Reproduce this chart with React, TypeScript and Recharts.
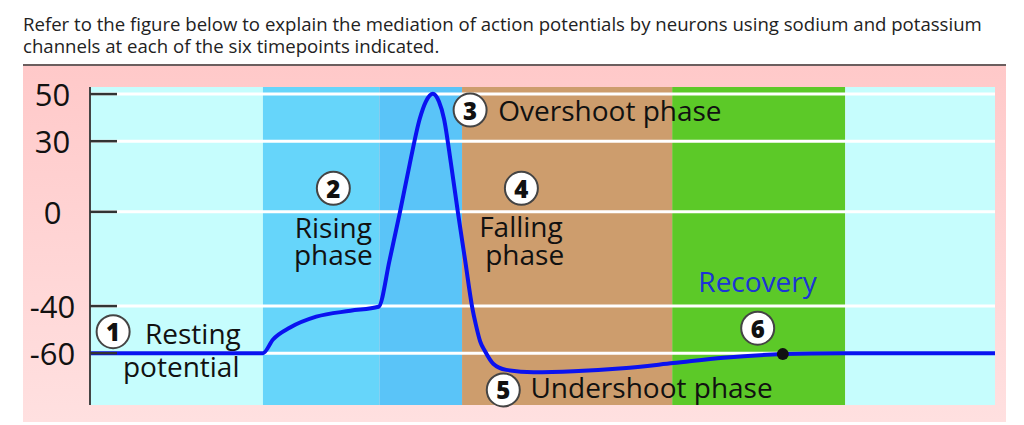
import { LineChart, Line, XAxis, YAxis, ReferenceArea, ReferenceLine, ReferenceDot } from 'recharts'

// membrane potential (mV) over time (ms)
const timeMs = [
  0, 1.72, 1.82, 1.99, 2.25, 2.59, 2.87, 2.98, 3.08, 3.18, 3.28, 3.34, 3.41, 3.47, 3.52,
  3.59, 3.66, 3.73, 3.8, 3.84, 3.88, 3.93, 4.01, 4.14, 4.41, 4.81, 5.3, 5.8, 6.3, 6.89, 7.46, 9,
]
const voltage = [
  -60, -60, -54.2, -49.1, -44.5, -42, -40.3, -20.4, -0.6, 20.4, 39.6, 46.8, 50.1, 46.8, 39.6,
  20.4, -0.6, -20.4, -40.3, -48.4, -55, -59.3, -64.5, -67.1, -68.1, -67.7, -66.4, -64.2, -61.9, -60.4, -60, -60,
]

const yTicks = [50, 30, 0, -40, -60]

// background phase bands (ms)
const bandStart = [0, 1.72, 2.88, 3.7, 5.79, 7.51]
const bandEnd = [1.72, 2.88, 3.7, 5.79, 7.51, 9]
const bandColors = ['#c6fdfd', '#66d5fa', '#5ac4f8', '#cd9d6d', '#5cc928', '#c6fdfd']

// numbered timepoints
const stepNo = ['1', '2', '3', '4', '5', '6']
const stepT = [0.23, 2.42, 3.78, 4.29, 4.11, 6.64]
const stepV = [-50.9, 10, 43.2, 10, -75.6, -49.4]

// phase labels
const labelText = ['Resting', 'potential', 'Rising', 'phase', 'Overshoot phase', 'Falling', 'phase', 'Recovery', 'Undershoot phase']
const labelT = [0.547, 0.328, 2.42, 2.42, 4.06, 3.87, 3.93, 6.05, 4.38]
const labelV = [-56.1, -70.1, -11.1, -22.6, 38.6, -10.7, -22.6, -33.9, -79]
const labelAnchor = ['start', 'start', 'middle', 'middle', 'start', 'start', 'start', 'start', 'start']

const recoveryDot = { t: 6.89, v: -60.4 }

const curve = timeMs.map((t, i) => ({ t, v: voltage[i] }))

const FONT = '"Open Sans", sans-serif'
const PLOT_LEFT = 67

function YTick(props: any) {
  const { y, payload } = props
  return (
    <g>
      <text x={29.5} y={y} textAnchor="middle" dominantBaseline="central" fontSize={31} fontFamily={FONT} fill="#111">
        {payload.value}
      </text>
      <line x1={PLOT_LEFT} x2={PLOT_LEFT + 27} y1={y} y2={y} stroke="#333" strokeWidth={2.5} />
    </g>
  )
}

export default function App() {
  return (
    <div style={{ position: 'absolute', left: 0, top: 0, width: 1024, height: 425, background: '#fff', fontFamily: FONT }}>
      <div style={{ position: 'absolute', left: 23, top: 13, fontSize: 18.6, lineHeight: '22px', color: '#222', whiteSpace: 'nowrap' }}>
        <div>Refer to the figure below to explain the mediation of action potentials by neurons using sodium and potassium</div>
        <div>channels at each of the six timepoints indicated.</div>
      </div>
      <div style={{ position: 'absolute', left: 23, top: 64, width: 983, height: 2, background: '#6b5e5e' }} />
      <div
        style={{
          position: 'absolute',
          left: 23,
          top: 66,
          width: 983,
          height: 356,
          background: 'linear-gradient(#ffc9c9, #ffe0e0)',
        }}
      >
        <LineChart width={983} height={356} data={curve} margin={{ top: 21, right: 11, bottom: 17, left: 0 }}>
          {bandStart.map((s, i) => (
            <ReferenceArea key={`band-${i}`} x1={s} x2={bandEnd[i]} fill={bandColors[i]} fillOpacity={1} stroke="none" />
          ))}
          {yTicks.map((v) => (
            <ReferenceLine key={`grid-${v}`} y={v} stroke="#fff" strokeWidth={3} />
          ))}
          <XAxis
            type="number"
            dataKey="t"
            domain={[0, 9]}
            height={0}
            tick={false}
            tickLine={false}
            axisLine={{ stroke: '#333', strokeWidth: 2 }}
          />
          <YAxis
            type="number"
            domain={[-82, 53]}
            ticks={yTicks}
            width={67}
            interval={0}
            tickLine={false}
            axisLine={{ stroke: '#444', strokeWidth: 2 }}
            tick={<YTick />}
          />
          <Line
            type="monotone"
            dataKey="v"
            stroke="#0a12f0"
            strokeWidth={4}
            dot={false}
            isAnimationActive={false}
          />
          <ReferenceDot x={recoveryDot.t} y={recoveryDot.v} r={6} fill="#111" stroke="none" />
          {labelText.map((txt, i) => (
            <ReferenceDot
              key={`lbl-${i}`}
              x={labelT[i]}
              y={labelV[i]}
              r={0}
              shape={(p: any) => (
                <text
                  x={p.cx}
                  y={p.cy}
                  textAnchor={labelAnchor[i]}
                  fontSize={28}
                  fontFamily={FONT}
                  fill={txt === 'Recovery' ? '#1b34d6' : '#111'}
                >
                  {txt}
                </text>
              )}
            />
          ))}
          {stepNo.map((n, i) => (
            <ReferenceDot
              key={`step-${i}`}
              x={stepT[i]}
              y={stepV[i]}
              r={17}
              shape={(p: any) => (
                <g>
                  <circle cx={p.cx} cy={p.cy} r={16.5} fill="#fff" stroke="#444" strokeWidth={2} />
                  <text
                    x={p.cx}
                    y={p.cy}
                    textAnchor="middle"
                    dominantBaseline="central"
                    fontSize={24}
                    fontWeight={800}
                    fontFamily={FONT}
                    fill="#111"
                  >
                    {n}
                  </text>
                </g>
              )}
            />
          ))}
        </LineChart>
      </div>
    </div>
  )
}
